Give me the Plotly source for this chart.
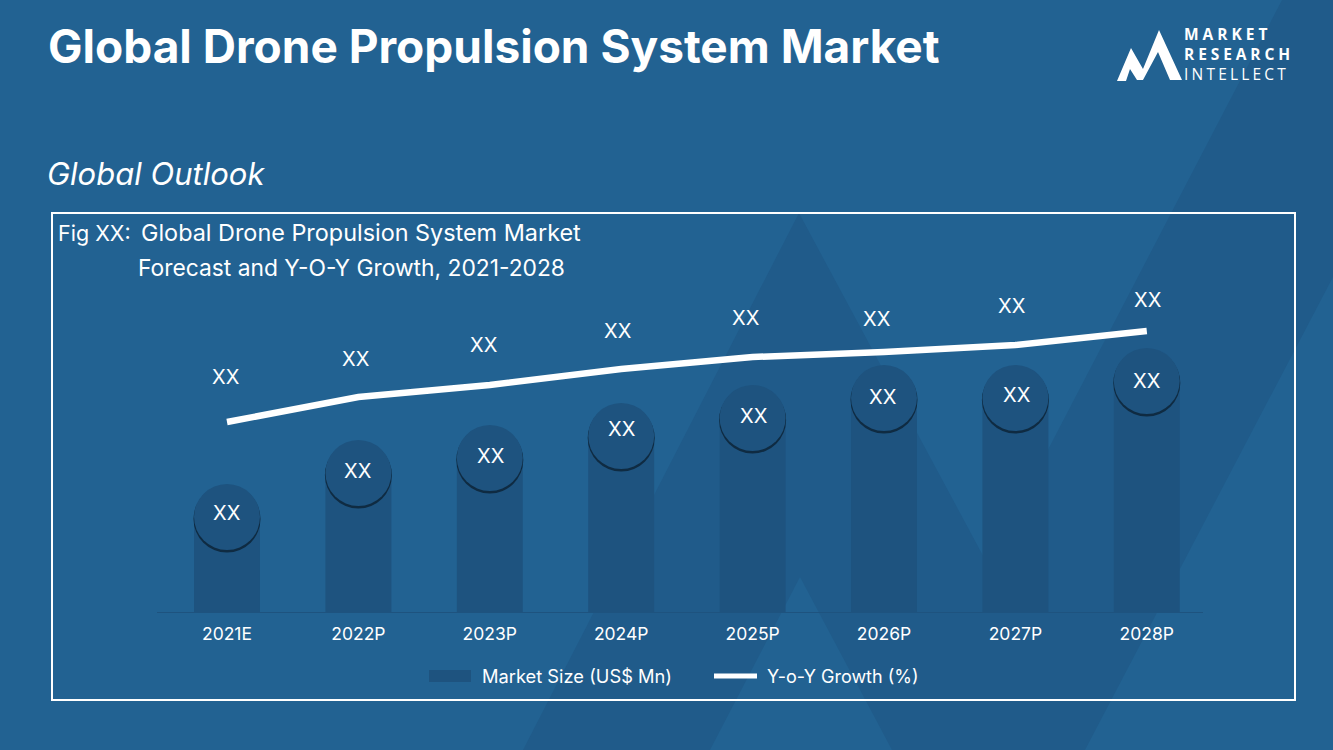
import json

import plotly.graph_objects as go

years = ["2021E", "2022P", "2023P", "2024P", "2025P", "2026P", "2027P", "2028P"]
market_size = [95, 139, 154, 176, 194, 214, 214, 231]
yoy_growth = [190, 215, 227, 243, 255, 260, 267, 281]
value_label = "XX"

# small nudges for the XX labels, in pixels
size_label_dy = [4, 2, 2, 7, 2, 1, 3, 0]
size_label_dx = [0, 0, 1, 1, 1, -1, 2, 0]
growth_label_dy = [45, 38, 40, 38, 39, 33, 39, 31]
growth_label_dx = [-1, -2, -6, -3, -7, -7, -3, 1]

W, H = 1333, 750
BG = "#226292"
MOUNTAIN = "#205b8a"
BAR = "#1e537f"
SHADOW = "#0f2b42"
FONT = "Inter"

# page pixels of the plot area
PLOT_L, PLOT_R, PLOT_T, PLOT_B = 157, 1203, 212, 612
BAR_STEP = 131.4
FIRST_BAR = 227


def px(x, y):
    return x / W, 1 - y / H


def polygon(points, color):
    path = ""
    for i, (x, y) in enumerate(points):
        fx, fy = px(x, y)
        path += f"{'M' if i == 0 else 'L'}{fx:.5f},{fy:.5f} "
    return dict(type="path", path=path + "Z", xref="paper", yref="paper",
                fillcolor=color, line_width=0, layer="below")


def label(text, x, y, size, color="white", bold=False, italic=False, font=FONT):
    # annotations carry about 2px of padding on the left
    fx, fy = px(x - 2, y)
    return dict(
        text=f"<b>{text}</b>" if bold else text,
        x=fx, y=fy, xref="paper", yref="paper",
        xanchor="left", yanchor="middle", align="left", showarrow=False,
        font=dict(family=font, size=size, color=color,
                  style="italic" if italic else "normal"),
    )


fig = go.Figure()
fig.add_trace(go.Bar(x=years, y=market_size, width=0.502, marker_color=BAR,
                     marker_line_width=0, name="Market Size (US$ Mn)"))
fig.add_trace(go.Scatter(x=years, y=[v - 2 for v in market_size], mode="markers",
                         marker=dict(size=67, color=SHADOW, line_width=0)))
fig.add_trace(go.Scatter(x=years, y=market_size, mode="markers",
                         marker=dict(size=66, color=BAR, line_width=0)))
fig.add_trace(go.Scatter(x=years, y=yoy_growth, mode="lines",
                         line=dict(color="white", width=6.5), name="Y-o-Y Growth (%)"))

annotations = []
for i, year in enumerate(years):
    annotations.append(dict(x=year, y=market_size[i], text=value_label, showarrow=False,
                            xshift=size_label_dx[i], yshift=size_label_dy[i],
                            font=dict(family=FONT, size=20, color="white")))
    annotations.append(dict(x=year, y=yoy_growth[i], text=value_label, showarrow=False,
                            xshift=growth_label_dx[i], yshift=growth_label_dy[i],
                            font=dict(family=FONT, size=20, color="white")))

annotations += [
    label("Global Drone Propulsion System Market", 48, 46, 46, bold=True),
    label("Global Outlook", 47, 173, 31, italic=True),
    label("Fig XX:", 58, 233, 21.5),
    label("Global Drone Propulsion System Market", 141, 233, 23.4),
    label("Forecast and Y-O-Y Growth, 2021-2028", 138, 268, 22.8),
    label("Market Size (US$ Mn)", 482, 676, 18.3),
    label("Y-o-Y Growth (%)", 767, 676, 18),
    label("<b>MARKET</b><br><b>RESEARCH</b><br>INTELLECT", 1184, 54, 15.5, font="Open Sans"),
]

box_l, box_t = px(52, 213)
box_r, box_b = px(1295, 700)
leg_bar_l, leg_bar_t = px(429, 670)
leg_bar_r, leg_bar_b = px(471, 682)
leg_line_l, leg_line_y = px(714, 676)
leg_line_r, _ = px(757, 676)

shapes = [
    # faint logo mountains behind everything
    polygon([(799, 213), (988, 565), (1282, 0), (1333, 0), (1333, 277), (1085, 750),
             (892, 750), (800, 577), (710, 750), (523, 750)], MOUNTAIN),
    dict(type="rect", x0=box_l, x1=box_r, y0=box_b, y1=box_t, xref="paper", yref="paper",
         line=dict(color="white", width=2), layer="below"),
    dict(type="rect", x0=leg_bar_l, x1=leg_bar_r, y0=leg_bar_b, y1=leg_bar_t,
         xref="paper", yref="paper", fillcolor=BAR, line_width=0),
    dict(type="line", x0=leg_line_l, x1=leg_line_r, y0=leg_line_y, y1=leg_line_y,
         xref="paper", yref="paper", line=dict(color="white", width=5)),
    # logo
    polygon([(1117, 81), (1131, 48), (1143, 69), (1159, 30), (1182, 80), (1170, 80),
             (1158, 52), (1143, 80), (1137, 80), (1130, 69), (1126, 81)], "white"),
]

fig.update_layout(
    width=W, height=H,
    margin=dict(l=0, r=0, t=0, b=0),
    paper_bgcolor=BG, plot_bgcolor="rgba(0,0,0,0)",
    showlegend=False,
    annotations=annotations,
    shapes=shapes,
    xaxis=dict(
        domain=[PLOT_L / W, PLOT_R / W],
        type="category",
        range=[(PLOT_L - FIRST_BAR) / BAR_STEP, (PLOT_R - FIRST_BAR) / BAR_STEP],
        showgrid=False, zeroline=False,
        showline=True, linecolor=BAR, linewidth=1,
        ticks="outside", ticklen=6, tickcolor="rgba(0,0,0,0)",
        tickfont=dict(family=FONT, size=17.5, color="white"),
    ),
    yaxis=dict(
        domain=[1 - PLOT_B / H, 1 - PLOT_T / H],
        range=[0, PLOT_B - PLOT_T],
        visible=False,
    ),
)

# plotly has no letter spacing option, the logo needs it
spacing = {"MARKET": "4px", "RESEARCH": "3.9px", "INTELLECT": "3.2px"}
post_script = (
    "document.body.style.margin='0';"
    f"var sp={json.dumps(spacing)};"
    "document.querySelectorAll('.annotation-text tspan.line').forEach(function(t){"
    "if(sp[t.textContent]){t.style.letterSpacing=sp[t.textContent];}});"
)

fig.write_html("out.html", post_script=post_script, config={"displayModeBar": False})
